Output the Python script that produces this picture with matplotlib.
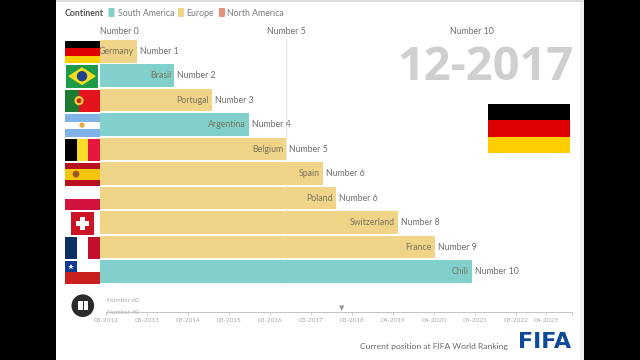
"""Bar chart race frame: FIFA ranking 12-2017."""
import matplotlib

matplotlib.use("Agg")
import matplotlib.pyplot as plt
from matplotlib.patches import Circle, FancyBboxPatch, Polygon, Rectangle

plt.rcParams["font.family"] = ["Lato", "DejaVu Sans"]

countries = ["Germany", "Brasil", "Portugal", "Argentina", "Belgium",
             "Spain", "Poland", "Switzerland", "France", "Chili"]
values = [1, 2, 3, 4, 5, 6, 6.35, 8, 9, 10]
rank_labels = ["Number 1", "Number 2", "Number 3", "Number 4", "Number 5",
               "Number 6", "Number 6", "Number 8", "Number 9", "Number 10"]
continents = ["Europe", "South America", "Europe", "South America", "Europe",
              "Europe", "Europe", "Europe", "Europe", "South America"]
top_ticks = [0, 5, 10]
timeline_labels = ["03-2012", "03-2013", "03-2014", "03-2015", "03-2016", "03-2017",
                   "03-2018", "04-2019", "04-2020", "04-2021", "03-2022", "04-2023"]
timeline_pos = [0, 1, 2, 3, 4, 5, 6, 7, 8, 9, 10, 10.73]
timeline_end = 11.366
current_pos = 5.75

COLORS = {"South America": "#82d0cc", "Europe": "#f0d488", "North America": "#e8917a"}
GREY_TXT = "#6f6f6f"
FS = 6.3

fig = plt.figure(figsize=(6.4, 3.6), dpi=100, facecolor="white")

# pixel canvas for the furniture
pg = fig.add_axes([0, 0, 1, 1])
pg.set_xlim(0, 640)
pg.set_ylim(360, 0)
pg.axis("off")
pg.add_patch(Rectangle((0, 0), 56, 360, color="black", lw=0))
pg.add_patch(Rectangle((584, 0), 56, 360, color="black", lw=0))
pg.add_patch(Rectangle((580, 0), 4, 360, color="#efefef", lw=0))
pg.add_patch(Rectangle((56, 0), 528, 1.5, color="#dddddd", lw=0))

# big date sits under the gridlines
pg.text(485, 67, "12-2017", ha="center", va="center", fontsize=33.8, fontweight="bold",
        family=["Open Sans", "DejaVu Sans"], color="#cfcfcf")

# bars, x in rank units, y in row units
ax = fig.add_axes([100 / 640, 1 - 283.8 / 360, 372 / 640, 244.8 / 360])
ax.set_xlim(0, 10)
ax.set_ylim(9.5, -0.5)
ax.patch.set_alpha(0)
for s in ax.spines.values():
    s.set_visible(False)
ax.tick_params(left=False, bottom=False, labelleft=False, labelbottom=False)
for t in top_ticks[1:]:
    ax.axvline(t, color="#e6e6e6", lw=0.7, zorder=0)
rows = list(range(len(countries)))
ax.barh(rows, values, height=0.92, color=[COLORS[c] for c in continents], zorder=2)
for i in rows:
    ax.annotate(countries[i], (values[i], i), xytext=(-3, 0), textcoords="offset pixels",
                ha="right", va="center", fontsize=FS, color="#77745f", zorder=3,
                annotation_clip=False)
    ax.annotate(rank_labels[i], (values[i], i), xytext=(3, 0), textcoords="offset pixels",
                ha="left", va="center", fontsize=FS, color=GREY_TXT, zorder=3,
                annotation_clip=False)

pg2 = fig.add_axes([0, 0, 1, 1])
pg2.set_xlim(0, 640)
pg2.set_ylim(360, 0)
pg2.axis("off")
pg2.patch.set_alpha(0)


def rect(x, y, w, h, c):
    pg2.add_patch(Rectangle((x, y), w, h, color=c, lw=0))


def h_stripes(x, y, w, h, cols):
    for k, c in enumerate(cols):
        rect(x, y + k * h / len(cols), w, h / len(cols), c)


def v_stripes(x, y, w, h, cols):
    for k, c in enumerate(cols):
        rect(x + k * w / len(cols), y, w / len(cols), h, c)


# row flags
fx, fw, fh = 65, 34.5, 22.5
row_y = [39.8 + 24.48 * i + 0.9 for i in range(10)]
h_stripes(fx, row_y[0], fw, fh, ["#000000", "#dd0000", "#ffce00"])
rect(66, row_y[1], 32, fh, "#1f9b48")
pg2.add_patch(Polygon([(68, row_y[1] + 11), (82, row_y[1] + 2), (96, row_y[1] + 11), (82, row_y[1] + 20)],
                      color="#f5de1f", lw=0))
pg2.add_patch(Circle((82, row_y[1] + 11), 5.2, color="#1f3f8f", lw=0))
rect(fx, row_y[2], 14, fh, "#1c7a30")
rect(fx + 14, row_y[2], 20.5, fh, "#e3121c")
pg2.add_patch(Circle((fx + 14, row_y[2] + 11), 4.6, color="#f4d03a", lw=0))
pg2.add_patch(Circle((fx + 14, row_y[2] + 11), 2.4, color="#c8201e", lw=0))
h_stripes(fx, row_y[3], fw, fh, ["#7fb2e6", "#ffffff", "#7fb2e6"])
pg2.add_patch(Circle((82, row_y[3] + 11), 2.6, color="#e8a93c", lw=0))
v_stripes(fx, row_y[4], fw, fh, ["#000000", "#fadc28", "#e6163c"])
rect(fx, row_y[5], fw, fh, "#b8101f")
rect(fx, row_y[5] + 5.6, fw, 11.2, "#f7c50c")
pg2.add_patch(Circle((76, row_y[5] + 11), 3.4, color="#9a5a20", lw=0))
rect(fx, row_y[6] + 11, fw, 11.5, "#d2123f")
rect(71, row_y[7], 22.5, fh, "#cc1524")
rect(79.8, row_y[7] + 4.5, 5, 13.5, "white")
rect(75.5, row_y[7] + 8.8, 13.5, 5, "white")
v_stripes(fx, row_y[8], fw, fh, ["#0c2f66", "#ffffff", "#c4102f"])
h_stripes(fx, row_y[9], fw, fh, ["#ffffff", "#c9201f"])
rect(fx, row_y[9], 11.5, 11.2, "#123a92")
pg2.plot([70.8], [row_y[9] + 5.6], marker="*", ms=4, color="white", mew=0)

# big flag
h_stripes(488, 104, 82, 49, ["#000000", "#dd0000", "#ffce00"])

# axis labels along the top
pg2.text(100, 31.5, "Number 0", ha="left", va="center", fontsize=FS, color=GREY_TXT)
pg2.text(286, 31.5, "Number 5", ha="center", va="center", fontsize=FS, color=GREY_TXT)
pg2.text(472, 31.5, "Number 10", ha="center", va="center", fontsize=FS, color=GREY_TXT)

# legend
pg2.text(65, 13, "Continent", ha="left", va="center", fontsize=FS, fontweight="bold", color="#555555")
for name, sx, tx in [("South America", 108.5, 117.5), ("Europe", 178, 186.5), ("North America", 219, 227)]:
    pg2.add_patch(FancyBboxPatch((sx + 1, 9), 4, 7, boxstyle="round,pad=1", color=COLORS[name], lw=0))
    pg2.text(tx, 13, name, ha="left", va="center", fontsize=FS, color="#7d7d7d")

# play control
pg2.add_patch(Circle((82.8, 305.7), 11.3, color="#2b2b2b", lw=0))
rect(78, 300.7, 4.6, 9.6, "white")
rect(83.7, 300.7, 4.6, 9.6, "white")
pg2.text(107, 301, "Number 60", fontsize=4.5, color="#a8a8a8", va="center")
pg2.text(107, 313, "Number 40", fontsize=4.5, color="#a8a8a8", va="center")

# timeline
tl = fig.add_axes([106 / 640, 1 - 315 / 360, 466 / 640, 3 / 360])
tl.set_xlim(0, timeline_end)
tl.patch.set_alpha(0)
for k in ("left", "right", "bottom"):
    tl.spines[k].set_visible(False)
tl.spines["top"].set_color("#c4c4c4")
tl.spines["top"].set_linewidth(0.7)
tl.set_yticks([])
tl.xaxis.tick_top()
tl.set_xticks(timeline_pos + [timeline_end])
tl.set_xticklabels([""] * 13)
tl.tick_params(axis="x", direction="in", length=2, width=0.5, color="#bbbbbb", pad=0)
for p, lab in zip(timeline_pos, timeline_labels):
    tl.annotate(lab, (p, 1), xycoords=("data", "axes fraction"), xytext=(0, -8),
                textcoords="offset pixels", ha="center", va="center", fontsize=4.6,
                color="#a8a8a8", annotation_clip=False)
tl.annotate("\u25bc", (current_pos, 1), xycoords=("data", "axes fraction"), xytext=(0, 3.5),
            textcoords="offset pixels", ha="center", va="center", fontsize=5,
            family=["DejaVu Sans"], color="#999999", annotation_clip=False)

# footer
pg2.text(508, 347, "Current position at FIFA World Ranking", ha="right", va="center",
         fontsize=6.1, color="#6a6a6a")
pg2.text(545, 341.5, "FIFA", ha="center", va="center", fontsize=16, fontweight="bold",
         family=["DejaVu Sans"], color="#0d4a9c")

fig.savefig("out.png", dpi=100)
